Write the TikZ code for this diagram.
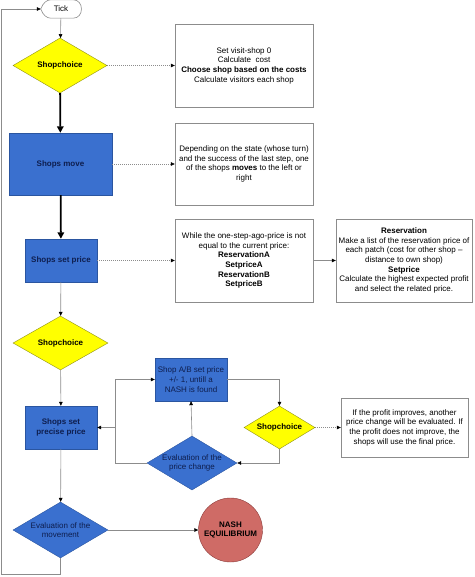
\documentclass[tikz,border=0pt]{standalone}
\usepackage{fontspec}
\setmainfont{Liberation Sans}
\usetikzlibrary{arrows.meta,shapes.geometric}
\definecolor{shopblue}{HTML}{3A70CF}
\definecolor{shopedge}{HTML}{2A55A0}
\definecolor{navy}{HTML}{0E1E4E}
\definecolor{choiceyellow}{HTML}{FFFF00}
\definecolor{choiceedge}{HTML}{8F8F1A}
\definecolor{nashred}{HTML}{CF6B66}
\definecolor{nashedge}{HTML}{8A3A38}
\definecolor{linegrey}{HTML}{8C8C8C}
\newcommand{\flowfont}{\fontsize{8}{9.7}\selectfont}
\tikzset{
  every node/.style={font=\flowfont},
  flow/.style={draw=linegrey,line width=0.6pt,-{Triangle[length=4pt,width=3.6pt,black]}},
  bigflow/.style={draw=black,line width=1.8pt,-{Triangle[length=6.5pt,width=6.5pt]}},
  dotflow/.style={flow,dash pattern=on 1pt off 1pt},
  choice/.style={diamond,draw=choiceedge,fill=choiceyellow,aspect=1.7,inner sep=0pt,font=\flowfont\bfseries},
  shopbox/.style={rectangle,draw=shopedge,fill=shopblue,text=navy,align=center,inner sep=0pt},
  evaldiamond/.style={diamond,draw=shopedge,fill=shopblue,text=navy,aspect=1.7,inner sep=0pt,align=center},
  notebox/.style={rectangle,draw=linegrey,fill=white,align=center,minimum width=138pt,minimum height=83pt,inner sep=0pt},
}
\begin{document}
\begin{tikzpicture}[x=1pt,y=-1pt]
\useasboundingbox (0,0) rectangle (474,577);
% start
\node (tick) [minimum width=40pt,minimum height=18pt,inner sep=0pt] at (61,9) {Tick};
\draw[draw=linegrey,line width=0.6pt] (tick.west) .. controls +(2,-6) and +(-4,0) .. ([xshift=10pt]tick.north west)
  -- ([xshift=-8pt]tick.north east) .. controls +(11,0) and +(11,0) .. ([xshift=-8pt]tick.south east)
  -- ([xshift=10pt]tick.south west) .. controls +(-4,0) and +(2,6) .. (tick.west);
\node (choice1) [choice,minimum width=94pt,minimum height=55pt] at (60,65.5) {Shopchoice};
\node (setbox) [notebox] at (244,65.5) {Set visit-shop 0\\Calculate\ \ cost\\\textbf{Choose shop based on the costs}\\Calculate visitors each shop};
%
\node (move) [shopbox,minimum width=103pt,minimum height=62pt,font=\flowfont\bfseries] at (60.5,164) {Shops move};
\node (movebox) [notebox,minimum height=82pt] at (244,164) {Depending on the state (whose turn)\\and the success of the last step, one\\of the shops \textbf{moves} to the left or\\right};
%
\node (price) [shopbox,minimum width=72pt,minimum height=43pt,font=\flowfont\bfseries] at (61,260.5) {Shops set price};
\node (pricebox) [notebox] at (244,260.5) {While the one-step-ago-price is not\\equal to the current price:\\\textbf{ReservationA}\\\textbf{SetpriceA}\\\textbf{ReservationB}\\\textbf{SetpriceB}};
\node (reservebox) [notebox,minimum width=136pt] at (404,260.5) {\textbf{Reservation}\\Make a list of the reservation price of\\each patch (cost for other shop --\\distance to own shop)\\\textbf{Setprice}\\Calculate the highest expected profit\\and select the related price.};
%
\node (choice2) [choice,minimum width=95pt,minimum height=54pt] at (60.5,343) {Shopchoice};
\node (precise) [shopbox,minimum width=72pt,minimum height=43pt,font=\flowfont\bfseries] at (61,427.5) {Shops set\\precise price};
\node (nashstep) [shopbox,minimum width=72pt,minimum height=43pt] at (191,379.5) {Shop A/B set price\\+/- 1, untill a\\NASH is found};
\node (evalprice) [evaldiamond,minimum width=90pt,minimum height=54pt] at (192,463) {Evaluation of the\\price change};
\node (choice3) [choice,minimum width=71pt,minimum height=43pt] at (279.5,427.5) {Shopchoice};
\node (profitbox) [notebox,minimum width=127pt,minimum height=59pt] at (404.5,427.5) {If the profit improves, another\\price change will be evaluated. If\\the profit does not improve, the\\shops will use the final price.};
%
\node (evalmove) [evaldiamond,minimum width=95pt,minimum height=56pt] at (60.5,530) {Evaluation of the\\movement};
\node (nash) [circle,draw=nashedge,fill=nashred,minimum size=64pt,inner sep=0pt,align=center,font=\flowfont\bfseries] at (230.5,530) {NASH\\EQUILIBRIUM};
\coordinate (loopcorner) at (1.5,574);
%
\draw[flow] (tick) -- (choice1);
\draw[dotflow] (choice1) -- (setbox);
\draw[bigflow] (choice1) -- (move);
\draw[dotflow] (move) -- (movebox);
\draw[bigflow] (move) -- (price);
\draw[dotflow] (price) -- (pricebox);
\draw[flow] (pricebox) -- (reservebox);
\draw[flow] (price) -- (choice2);
\draw[flow] (choice2) -- (precise);
\draw[flow] (nashstep.east) -| (choice3.north);
\draw[dotflow] (choice3) -- (profitbox);
\draw[flow] (choice3.south) |- (evalprice.east);
\draw[flow] (evalprice.north) -- (nashstep.south);
\draw[flow] (evalprice.west) -- ++(-32,0) coordinate (split) |- (nashstep.west);
\draw[flow] (split |- precise.east) -- (precise.east);
\draw[flow] (precise) -- (evalmove);
\draw[flow] (evalmove) -- (nash);
\draw[flow] (evalmove.south) |- (loopcorner) |- (tick.west);
\end{tikzpicture}
\end{document}
